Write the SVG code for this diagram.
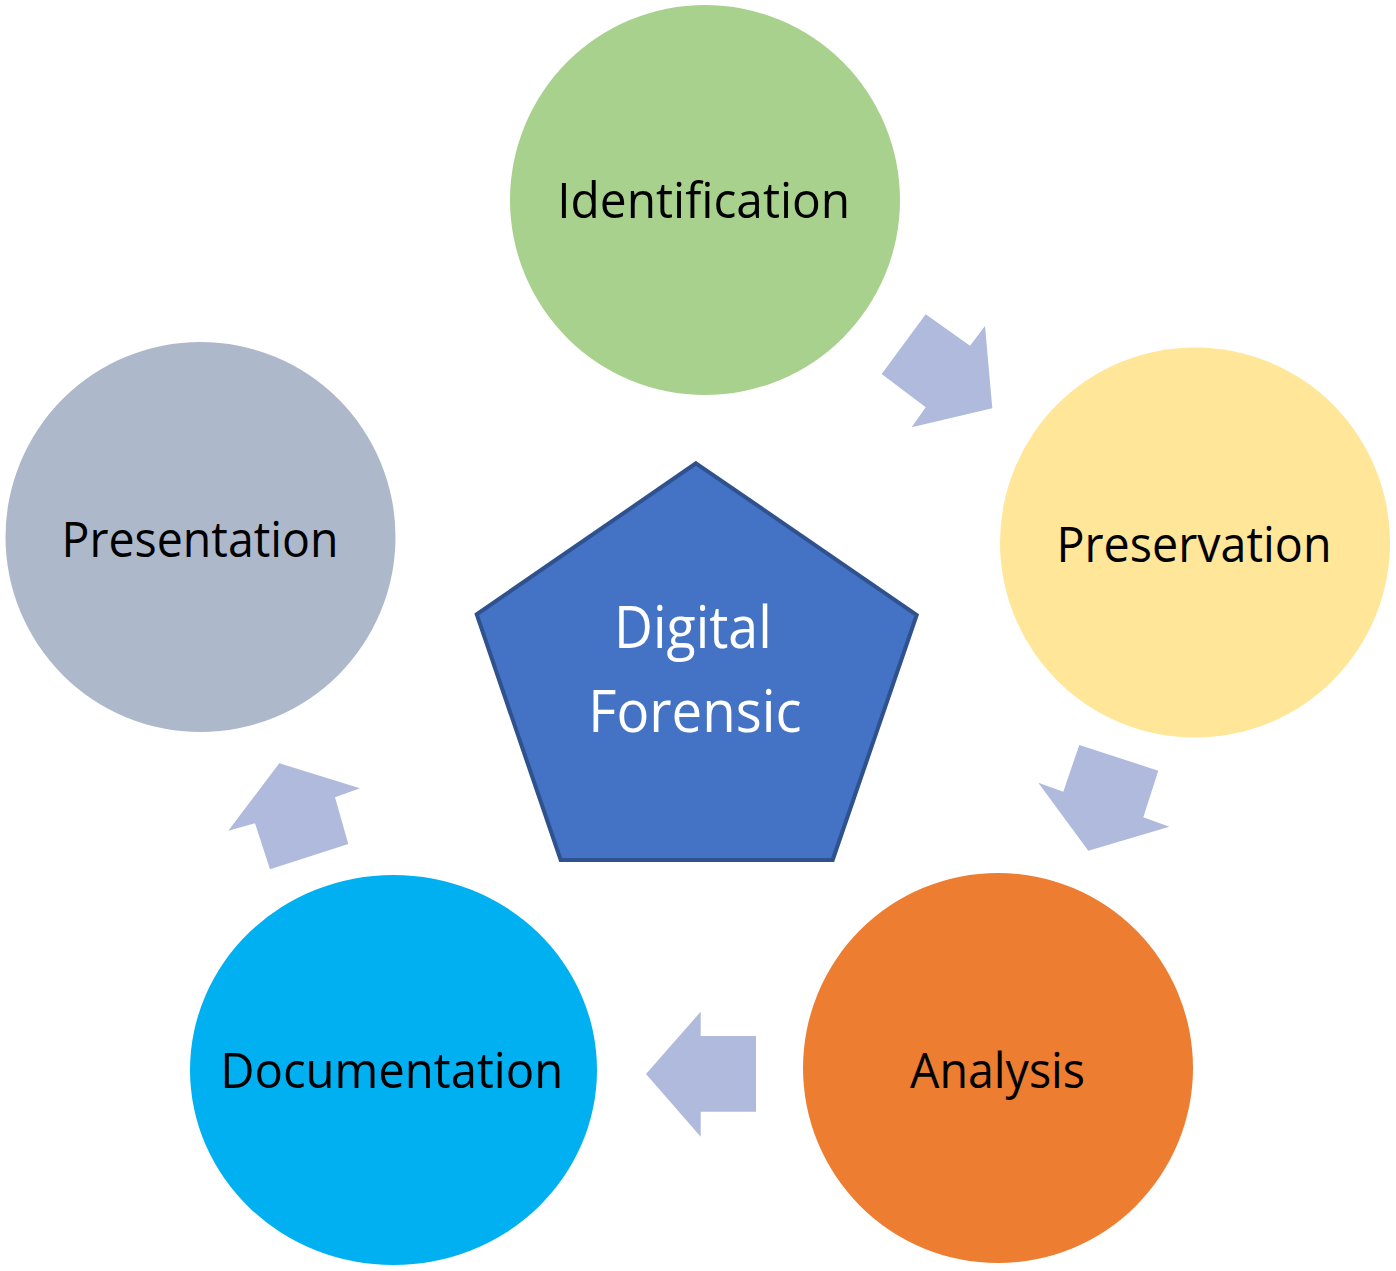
<svg xmlns="http://www.w3.org/2000/svg" width="1396" height="1271" viewBox="0 0 1396 1271">
<style>
.lbl{font-family:"Open Sans","Noto Sans","Liberation Sans",sans-serif;font-size:49px;fill:#000;text-anchor:middle}
.ctr{font-family:"Open Sans","Noto Sans","Liberation Sans",sans-serif;font-size:58px;fill:#fff;text-anchor:middle}
.arr{fill:#AFBADC}
</style>
<rect width="1396" height="1271" fill="#fff"/>
<g id="connectors">
<polygon class="arr" points="925.7,314.3 970,345.7 985,326 992.3,408.3 911.7,427.3 925.7,407.3 881.7,374"/>
<polygon class="arr" points="1079.3,745 1158.3,770.7 1143.3,817.3 1169.3,826.7 1088.3,850.7 1038.3,782.7 1063.3,791.7"/>
<polygon class="arr" points="700.7,1011.7 700.7,1036 756,1036 756,1111.7 700.7,1111.7 700.7,1136.7 646,1074"/>
<polygon class="arr" points="279.3,763.3 360,788.3 335,797.3 348.3,844 270,869.3 255,823.3 228.3,830.7"/>
</g>
<g id="identification">
<circle cx="705" cy="200" r="195" fill="#A9D18E"/>
<text class="lbl" x="703.7" y="218.3" textLength="293" lengthAdjust="spacingAndGlyphs">Identification</text>
</g>
<g id="preservation">
<circle cx="1195" cy="542.5" r="195" fill="#FFE699"/>
<text class="lbl" x="1194" y="561.7" textLength="275" lengthAdjust="spacingAndGlyphs">Preservation</text>
</g>
<g id="analysis">
<circle cx="998" cy="1068" r="195" fill="#ED7D31"/>
<text class="lbl" x="997.5" y="1088.3" textLength="175" lengthAdjust="spacingAndGlyphs">Analysis</text>
</g>
<g id="documentation">
<ellipse cx="393.5" cy="1070" rx="203.5" ry="195" fill="#00B0F0"/>
<text class="lbl" x="391.7" y="1088.3" textLength="343" lengthAdjust="spacingAndGlyphs">Documentation</text>
</g>
<g id="presentation">
<circle cx="200.5" cy="537" r="195" fill="#ADB9CA"/>
<text class="lbl" x="200" y="556.7" textLength="277" lengthAdjust="spacingAndGlyphs">Presentation</text>
</g>
<g id="digital-forensic">
<polygon points="696,463.3 916.7,615 832.7,860 560.7,860 476.7,614.3" fill="#4472C4" stroke="#2F528F" stroke-width="4" stroke-linejoin="miter"/>
<text class="ctr" x="692.9" y="648.3" textLength="157.7" lengthAdjust="spacingAndGlyphs">Digital</text>
<text class="ctr" x="695" y="731.7" textLength="213.4" lengthAdjust="spacingAndGlyphs">Forensic</text>
</g>
</svg>
